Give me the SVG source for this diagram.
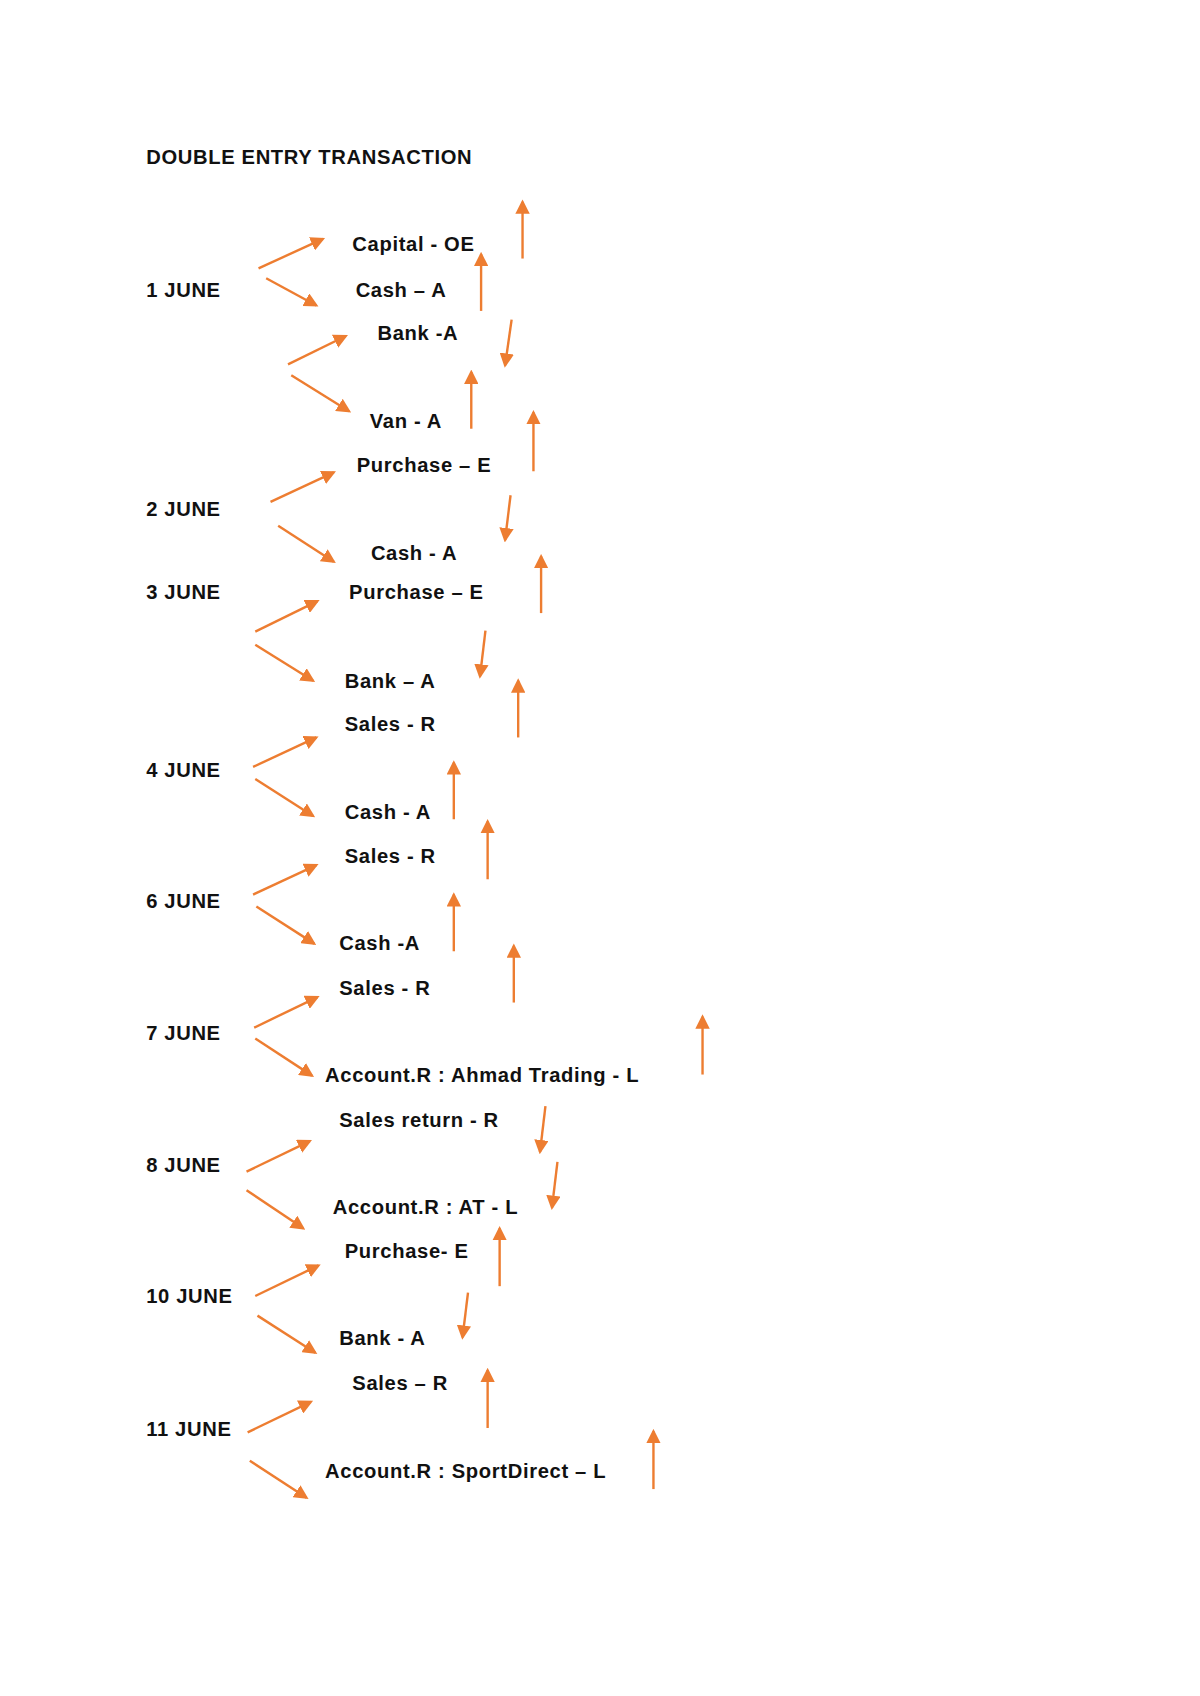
<svg xmlns="http://www.w3.org/2000/svg" width="1200" height="1696" viewBox="0 0 1200 1696">
<style>
text{font-family:"Liberation Sans",Arial,sans-serif;font-size:18.5px;font-weight:bold;fill:#111;letter-spacing:0.6px}
.c line{stroke:#ED7D31;stroke-width:2.2;marker-end:url(#a)}
</style>
<defs><marker id="a" markerWidth="6" markerHeight="6" refX="5" refY="3" orient="auto" markerUnits="strokeWidth"><path d="M0,0 L6,3 L0,6 z" fill="#ED7D31"/></marker></defs>
<rect width="1200" height="1696" fill="#fff"/>
<g transform="scale(1.0909)">
<g id="title"><text x="134" y="150">DOUBLE ENTRY TRANSACTION</text></g>
<g id="dates">
<text x="134" y="272">1 JUNE</text><text x="134" y="473">2 JUNE</text><text x="134" y="549">3 JUNE</text>
<text x="134" y="712">4 JUNE</text><text x="134" y="832">6 JUNE</text><text x="134" y="953">7 JUNE</text>
<text x="134" y="1074">8 JUNE</text><text x="134" y="1194">10 JUNE</text><text x="134" y="1316">11 JUNE</text>
</g>
<g id="accounts">
<text x="323" y="230">Capital - OE</text><text x="326" y="272">Cash – A</text><text x="346" y="312">Bank -A</text>
<text x="339" y="392">Van - A</text><text x="327" y="433">Purchase – E</text><text x="340" y="513">Cash - A</text>
<text x="320" y="549">Purchase – E</text><text x="316" y="631">Bank – A</text><text x="316" y="670">Sales - R</text>
<text x="316" y="751">Cash - A</text><text x="316" y="791">Sales - R</text><text x="311" y="871">Cash -A</text>
<text x="311" y="912">Sales - R</text><text x="298" y="992">Account.R : Ahmad Trading - L</text>
<text x="311" y="1033">Sales return - R</text><text x="305" y="1113">Account.R : AT - L</text>
<text x="316" y="1153">Purchase- E</text><text x="311" y="1233">Bank - A</text><text x="323" y="1274">Sales – R</text>
<text x="298" y="1355">Account.R : SportDirect – L</text>
</g>
<g id="connectors" class="c">
<line x1="237" y1="246" x2="296" y2="219"/><line x1="244" y1="255" x2="290" y2="280"/>
<line x1="264" y1="334" x2="317" y2="308"/><line x1="267" y1="344" x2="320" y2="377"/>
<line x1="248" y1="460" x2="306" y2="433"/><line x1="255" y1="482" x2="306" y2="515"/>
<line x1="234" y1="579" x2="291" y2="551"/><line x1="234" y1="591" x2="287" y2="624"/>
<line x1="232" y1="703" x2="290" y2="676"/><line x1="234" y1="714" x2="287" y2="748"/>
<line x1="232" y1="820" x2="290" y2="793"/><line x1="235" y1="831" x2="288" y2="865"/>
<line x1="233" y1="942" x2="291" y2="914"/><line x1="234" y1="952" x2="286" y2="986"/>
<line x1="226" y1="1074" x2="284" y2="1046"/><line x1="226" y1="1091" x2="278" y2="1126"/>
<line x1="234" y1="1188" x2="292" y2="1160"/><line x1="236" y1="1206" x2="289" y2="1240"/>
<line x1="227" y1="1313" x2="285" y2="1285"/><line x1="229" y1="1339" x2="281" y2="1373"/>
<line x1="479" y1="237" x2="479" y2="185"/><line x1="441" y1="285" x2="441" y2="233"/>
<line x1="469" y1="293" x2="463" y2="335"/><line x1="432" y1="393" x2="432" y2="341"/>
<line x1="489" y1="432" x2="489" y2="378"/><line x1="468" y1="454" x2="463" y2="495"/>
<line x1="496" y1="562" x2="496" y2="510"/><line x1="445" y1="578" x2="440" y2="620"/>
<line x1="475" y1="676" x2="475" y2="624"/><line x1="416" y1="751" x2="416" y2="699"/>
<line x1="447" y1="806" x2="447" y2="753"/><line x1="416" y1="872" x2="416" y2="820"/>
<line x1="471" y1="919" x2="471" y2="867"/><line x1="644" y1="985" x2="644" y2="932"/>
<line x1="500" y1="1014" x2="495" y2="1056"/><line x1="511" y1="1065" x2="506" y2="1107"/>
<line x1="458" y1="1179" x2="458" y2="1126"/><line x1="429" y1="1185" x2="424" y2="1226"/>
<line x1="447" y1="1309" x2="447" y2="1256"/><line x1="599" y1="1365" x2="599" y2="1312"/>
</g>
</g>
</svg>
